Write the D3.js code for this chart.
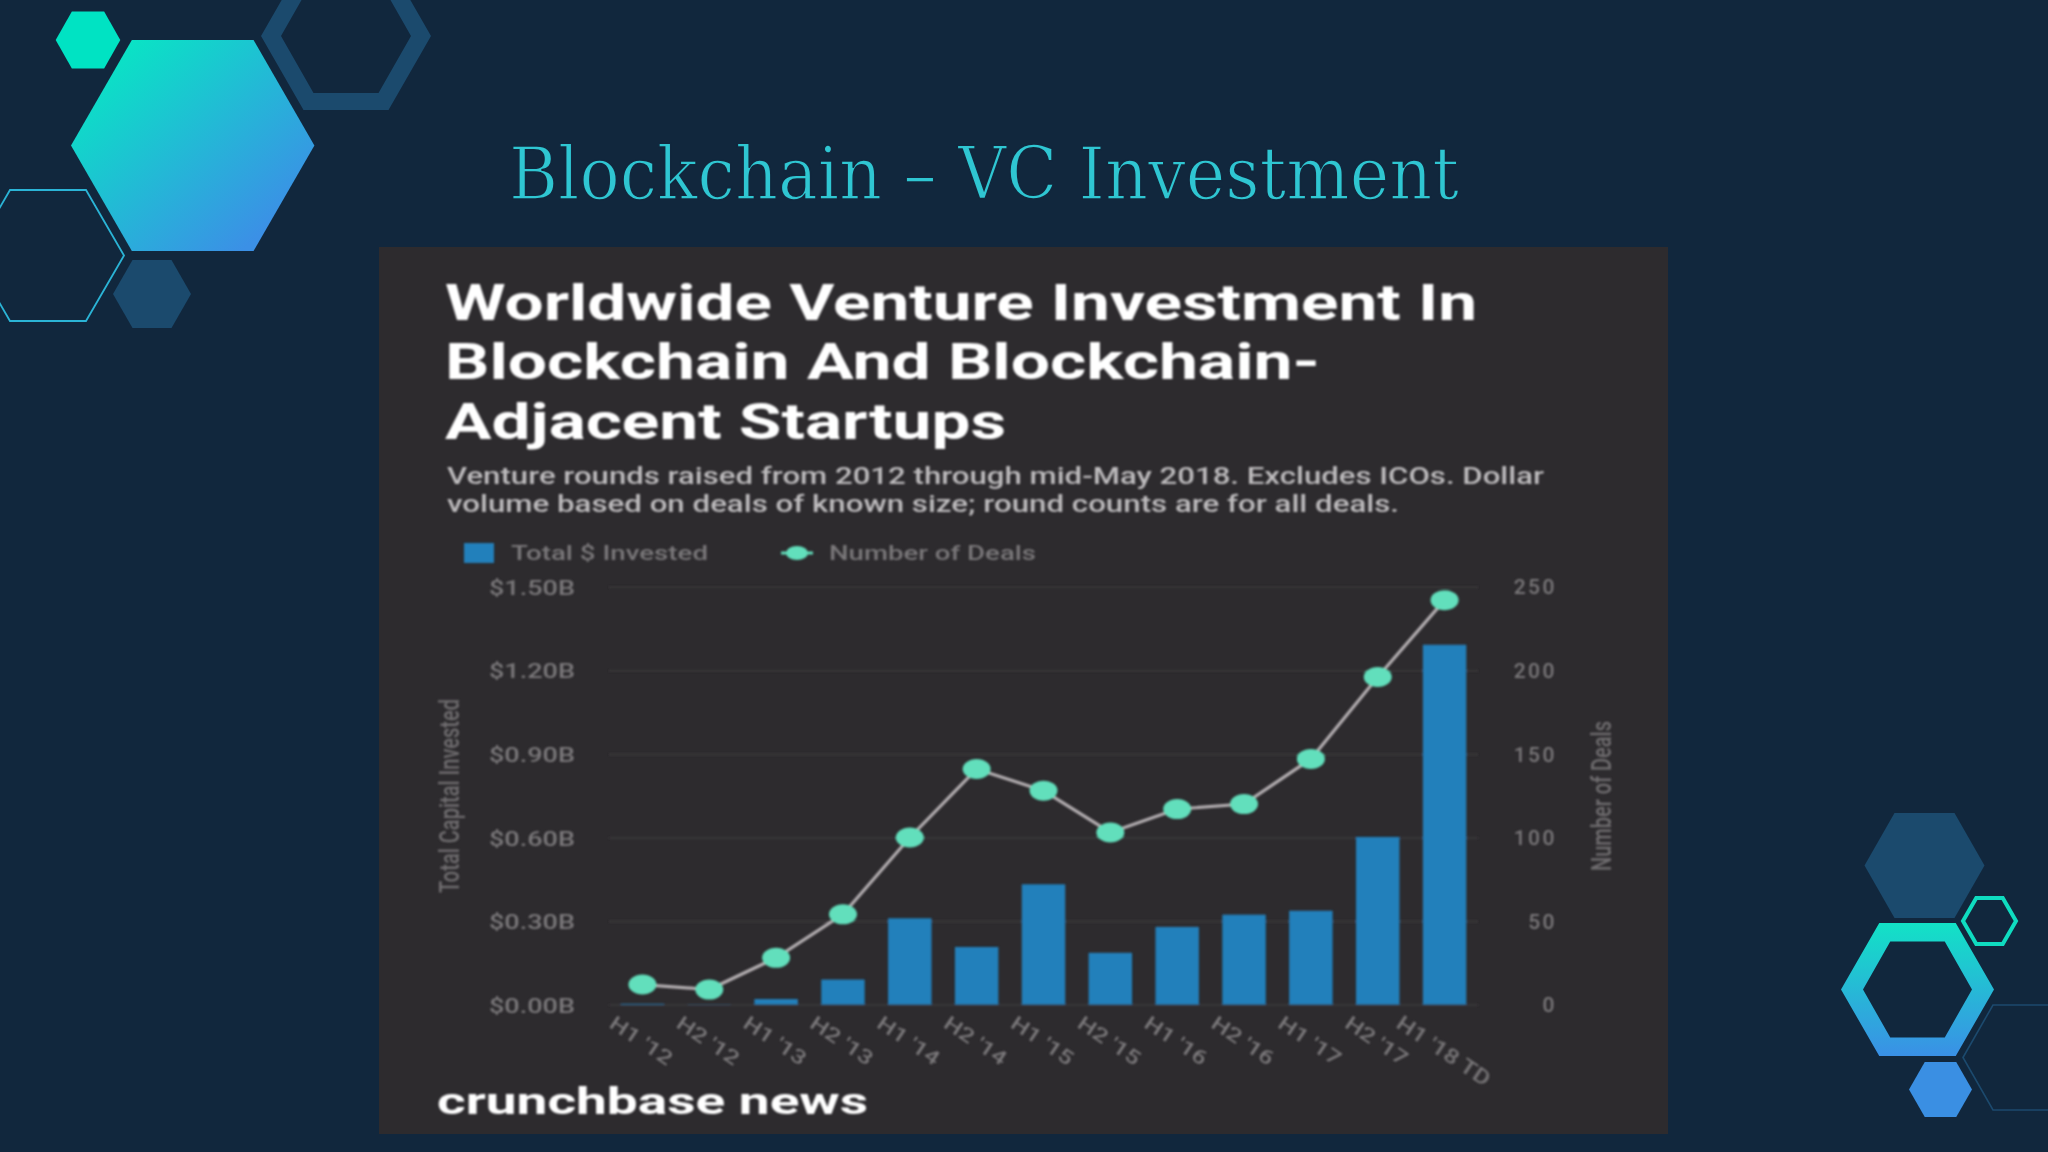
<!DOCTYPE html>
<html>
<head>
<meta charset="utf-8">
<script src="https://cdn.jsdelivr.net/npm/d3@7"></script>
<style>
  html, body { margin: 0; padding: 0; background: #11273d; }
  svg { display: block; }
  text { font-family: Roboto, "Liberation Sans", sans-serif; }
</style>
</head>
<body>
<div id="chart"></div>
<script>
const categories = ["H1 '12", "H2 '12", "H1 '13", "H2 '13", "H1 '14", "H2 '14", "H1 '15", "H2 '15", "H1 '16", "H2 '16", "H1 '17", "H2 '17", "H1 '18 TD"];
const totalInvested = [0.003, 0.001, 0.02, 0.09, 0.31, 0.207, 0.432, 0.186, 0.279, 0.323, 0.337, 0.602, 1.292];
const dealCounts = [12, 9, 28, 54, 100, 141, 128, 103, 117, 120, 147, 196, 242];
const capitalTicks = [0, 0.3, 0.6, 0.9, 1.2, 1.5];
const dealTicks = [0, 50, 100, 150, 200, 250];
const titleLines = ["Worldwide Venture Investment In", "Blockchain And Blockchain-", "Adjacent Startups"];
const noteLines = ["Venture rounds raised from 2012 through mid-May 2018. Excludes ICOs. Dollar", "volume based on deals of known size; round counts are for all deals."];

const width = 2048, height = 1152;
const svg = d3.select('#chart').append('svg').attr('width', width).attr('height', height);
const defs = svg.append('defs');

const addGradient = (id, x1, y1, x2, y2, from, to) => {
  const g = defs.append('linearGradient').attr('id', id)
    .attr('x1', x1).attr('y1', y1).attr('x2', x2).attr('y2', y2);
  g.append('stop').attr('offset', 0).attr('stop-color', from);
  g.append('stop').attr('offset', 1).attr('stop-color', to);
};
addGradient('bigHex', 0.1, 0.1, 0.85, 0.85, '#08e6c4', '#3b90e6');
addGradient('ringHex', 0.5, 0, 0.5, 1, '#12e2c6', '#3a90e6');
defs.append('filter').attr('id', 'soft').append('feGaussianBlur').attr('stdDeviation', 1.1);

svg.append('rect').attr('width', width).attr('height', height).attr('fill', '#11273d');

// background decoration
const hexPath = (cx, cy, r, hh) => {
  const pts = [[cx - r, cy], [cx - r / 2, cy - hh], [cx + r / 2, cy - hh], [cx + r, cy], [cx + r / 2, cy + hh], [cx - r / 2, cy + hh]];
  return d3.line()(pts) + 'Z';
};
const deco = svg.append('g');
const hex = (cx, cy, r, hh, fill, stroke, sw) => deco.append('path')
  .attr('d', hexPath(cx, cy, r, hh))
  .attr('fill', fill).attr('stroke', stroke || 'none').attr('stroke-width', sw || 0);
const ring = (cx, cy, r, hh, r2, hh2, fill) => deco.append('path')
  .attr('d', hexPath(cx, cy, r, hh) + hexPath(cx, cy, r2, hh2))
  .attr('fill', fill).attr('fill-rule', 'evenodd');

hex(88, 40, 32.3, 28.5, '#00e3c3');
hex(192.7, 145.5, 121.7, 105.5, 'url(#bigHex)');
ring(346, 36, 85, 74, 65, 57, '#1b4a6d');
hex(48, 255.5, 76, 65.5, 'none', '#2bb4d6', 1.8);
hex(152, 294, 39, 34, '#1b4a6d');
hex(1924.5, 865.5, 60, 52.5, '#1b4a6d');
hex(1989.5, 921, 26.5, 23, 'none', '#0fdcc0', 4);
ring(1917.5, 989.5, 76.5, 66.5, 54.5, 48, 'url(#ringHex)');
hex(1940.5, 1089.5, 31.5, 27.5, '#3a8fe3');
hex(2023, 1057.5, 60, 52.5, 'none', '#1c4a6e', 1.6);

// stretch a text to the width it has in the picture
const fit = (sel, w) => sel.attr('textLength', w).attr('lengthAdjust', 'spacingAndGlyphs');

// background-coloured stroke thins the serif down to a light weight
fit(svg.append('text').attr('x', 509).attr('y', 199)
  .attr('font-size', 72).attr('fill', '#2fc6d2')
  .attr('stroke', '#11273d').attr('stroke-width', 1.6)
  .style('font-family', '"DejaVu Serif", serif')
  .text('Blockchain – VC Investment'), 950);

svg.append('rect').attr('x', 379).attr('y', 247).attr('width', 1289).attr('height', 887).attr('fill', '#2d2b2e');

const panel = svg.append('g').attr('filter', 'url(#soft)');

const titleWidths = [1032, 875, 561];
titleLines.forEach((line, i) => {
  fit(panel.append('text').attr('x', 445).attr('y', 320 + i * 59.3)
    .attr('font-size', 50).attr('font-weight', 700).attr('fill', '#ffffff').text(line), titleWidths[i]);
});

const noteWidths = [1097, 952];
noteLines.forEach((line, i) => {
  fit(panel.append('text').attr('x', 447).attr('y', 484 + i * 27.5)
    .attr('font-size', 24).attr('font-weight', 500).attr('fill', '#bdbbbd').text(line), noteWidths[i]);
});

// scales
const x = d3.scaleBand().domain(categories).range([609, 1478]).paddingInner(0.35).paddingOuter(0.175);
const yCapital = d3.scaleLinear().domain([0, 1.5]).range([1004.6, 586.8]);
const yDeals = d3.scaleLinear().domain([0, 250]).range([1004.6, 586.8]);

// axes
const tickColor = '#7a787a';
const leftAxis = panel.append('g').attr('transform', 'translate(609,0)')
  .call(d3.axisLeft(yCapital).tickValues(capitalTicks).tickFormat(d => `$${d.toFixed(2)}B`)
    .tickSize(-869).tickPadding(34));
leftAxis.select('.domain').remove();
leftAxis.selectAll('line').attr('stroke', '#3d3b3d').attr('stroke-width', 1.5);
leftAxis.selectAll('text').attr('font-size', 20).attr('font-weight', 500).attr('fill', tickColor)
  .attr('textLength', 86).attr('lengthAdjust', 'spacingAndGlyphs').attr('dy', '0.38em');

const rightAxis = panel.append('g').attr('transform', 'translate(1478,0)')
  .call(d3.axisRight(yDeals).tickValues(dealTicks).tickSize(0).tickPadding(79));
rightAxis.select('.domain').remove();
rightAxis.selectAll('text').attr('font-size', 21).attr('font-weight', 500).attr('fill', tickColor)
  .attr('text-anchor', 'end').attr('letter-spacing', 2.5).attr('dy', '0.34em');

const xAxis = panel.append('g').attr('transform', 'translate(0,1004.6)')
  .call(d3.axisBottom(x).tickSize(0));
xAxis.select('.domain').remove();
const labelAngle = 34;
xAxis.selectAll('text').attr('font-size', 20).attr('font-weight', 500).attr('fill', tickColor)
  .attr('text-anchor', 'start').attr('dy', 0)
  .each(function () {
    const w = this.getComputedTextLength() * 1.25;
    const sx = -w * Math.cos(labelAngle * Math.PI / 180) / 2 - 5;
    d3.select(this).attr('textLength', w).attr('lengthAdjust', 'spacingAndGlyphs')
      .attr('x', 0).attr('y', 0)
      .attr('transform', `translate(${sx},22) rotate(${labelAngle})`);
  });

// axis titles
fit(panel.append('text').attr('transform', 'translate(459,796) rotate(-90)')
  .attr('text-anchor', 'middle').attr('font-size', 27).attr('font-weight', 500).attr('fill', '#6f6d6f')
  .text('Total Capital Invested'), 194);
fit(panel.append('text').attr('transform', 'translate(1611,796) rotate(-90)')
  .attr('text-anchor', 'middle').attr('font-size', 27).attr('font-weight', 500).attr('fill', '#6f6d6f')
  .text('Number of Deals'), 150);

// bars
panel.append('g').selectAll('rect').data(categories).join('rect')
  .attr('x', d => x(d))
  .attr('width', x.bandwidth())
  .attr('y', (d, i) => yCapital(totalInvested[i]))
  .attr('height', (d, i) => yCapital(0) - yCapital(totalInvested[i]))
  .attr('fill', '#2480bb');

// deals line
const cx = d => x(d) + x.bandwidth() / 2;
const dealLine = d3.line().x(d => cx(d)).y((d, i) => yDeals(dealCounts[i]));
panel.append('path').datum(categories)
  .attr('d', dealLine).attr('fill', 'none').attr('stroke', '#b3aeb1').attr('stroke-width', 3.2);
panel.append('g').selectAll('ellipse').data(categories).join('ellipse')
  .attr('cx', d => cx(d))
  .attr('cy', (d, i) => yDeals(dealCounts[i]))
  .attr('rx', 14).attr('ry', 10)
  .attr('fill', '#62dfbc');

// legend
panel.append('rect').attr('x', 464).attr('y', 543).attr('width', 30).attr('height', 20).attr('fill', '#2480bb');
fit(panel.append('text').attr('x', 511).attr('y', 560).attr('font-size', 20).attr('font-weight', 500)
  .attr('fill', tickColor).text('Total $ Invested'), 197);
panel.append('line').attr('x1', 781).attr('x2', 813).attr('y1', 553).attr('y2', 553)
  .attr('stroke', '#62dfbc').attr('stroke-width', 3);
panel.append('ellipse').attr('cx', 797).attr('cy', 553).attr('rx', 11).attr('ry', 7).attr('fill', '#62dfbc');
fit(panel.append('text').attr('x', 829).attr('y', 560).attr('font-size', 20).attr('font-weight', 500)
  .attr('fill', tickColor).text('Number of Deals'), 207);

fit(panel.append('text').attr('x', 437).attr('y', 1114).attr('font-size', 37)
  .attr('font-weight', 700).attr('fill', '#ffffff').text('crunchbase news'), 431);
</script>
</body>
</html>
